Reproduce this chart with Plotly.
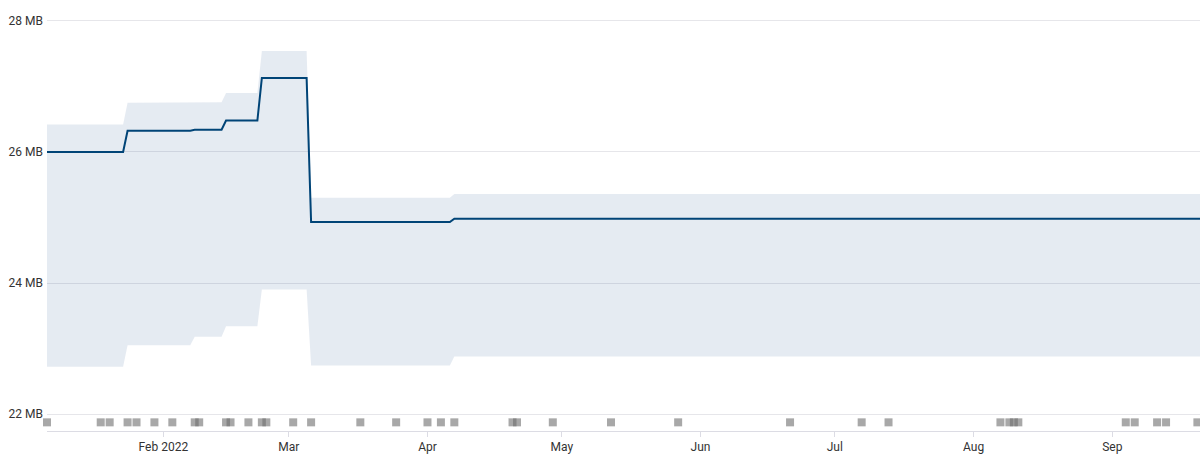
import plotly.graph_objects as go

# ---- data ----
dates = ["2022-01-06", "2022-01-23", "2022-01-24", "2022-02-07", "2022-02-08",
         "2022-02-14", "2022-02-15", "2022-02-22", "2022-02-23", "2022-03-05",
         "2022-03-06", "2022-04-06", "2022-04-07", "2022-09-21"]
value_mb = [26.0, 26.0, 26.325, 26.325, 26.34, 26.34, 26.48, 26.48, 27.13, 27.13,
            24.93, 24.93, 24.98, 24.98]
upper_mb = [26.42, 26.42, 26.75, 26.75, 26.76, 26.76, 26.90, 26.90, 27.54, 27.54,
            25.30, 25.30, 25.36, 25.36]
lower_mb = [22.72, 22.72, 23.05, 23.05, 23.18, 23.18, 23.34, 23.34, 23.90, 23.90,
            22.74, 22.74, 22.88, 22.88]

event_dates = ["2022-01-06", "2022-01-18", "2022-01-20", "2022-01-24", "2022-01-26",
               "2022-01-30", "2022-02-03", "2022-02-08", "2022-02-09", "2022-02-15",
               "2022-02-16", "2022-02-20", "2022-02-23", "2022-02-24", "2022-03-02",
               "2022-03-06", "2022-03-17", "2022-03-25", "2022-04-01", "2022-04-04",
               "2022-04-07", "2022-04-20", "2022-04-21", "2022-04-29", "2022-05-12",
               "2022-05-27", "2022-06-21", "2022-07-07", "2022-07-13", "2022-08-07",
               "2022-08-09", "2022-08-10", "2022-08-11", "2022-09-04", "2022-09-06",
               "2022-09-11", "2022-09-13", "2022-09-20"]

y_ticks = [22, 24, 26, 28]
y_tick_text = ["22 MB", "24 MB", "26 MB", "28 MB"]
x_ticks = ["2022-02-01", "2022-03-01", "2022-04-01", "2022-05-01", "2022-06-01",
           "2022-07-01", "2022-08-01", "2022-09-01"]
x_tick_text = ["Feb 2022", "Mar", "Apr", "May", "Jun", "Jul", "Aug", "Sep"]

EVENT_Y = 21.873

fig = go.Figure()
fig.add_trace(go.Scatter(x=dates, y=upper_mb, mode="lines", line=dict(width=0),
                         hoverinfo="skip", showlegend=False))
fig.add_trace(go.Scatter(x=dates, y=lower_mb, mode="lines", line=dict(width=0),
                         fill="tonexty", fillcolor="rgba(0,60,130,0.10)",
                         hoverinfo="skip", showlegend=False))
fig.add_trace(go.Scatter(x=dates, y=value_mb, mode="lines",
                         line=dict(color="#004477", width=2), showlegend=False))
fig.add_trace(go.Scatter(x=event_dates, y=[EVENT_Y] * len(event_dates), mode="markers",
                         marker=dict(symbol="square", size=8,
                                     color="rgba(110,110,110,0.6)", line=dict(width=0)),
                         cliponaxis=False, showlegend=False))

fig.update_layout(
    width=1200, height=463,
    margin=dict(l=47, r=0, t=0, b=32),
    paper_bgcolor="white", plot_bgcolor="white",
    font=dict(family="Roboto", size=12, color="#333333"),
    showlegend=False,
    xaxis=dict(range=["2022-01-06", "2022-09-20 14:00"], tickvals=x_ticks,
               ticktext=x_tick_text, showgrid=False, showline=True,
               linecolor="#dcdce4", linewidth=1, ticks="outside", ticklen=5,
               tickcolor="#dcdce4", zeroline=False),
    yaxis=dict(range=[21.741, 28.32], tickvals=y_ticks, ticktext=y_tick_text,
               showgrid=True, gridcolor="#e6e6ea", gridwidth=1, zeroline=False,
               showline=False, ticks="", ticklabelstandoff=3),
)

fig.write_html("out.html", config={"displayModeBar": False},
               post_script="document.body.style.margin='0';")
